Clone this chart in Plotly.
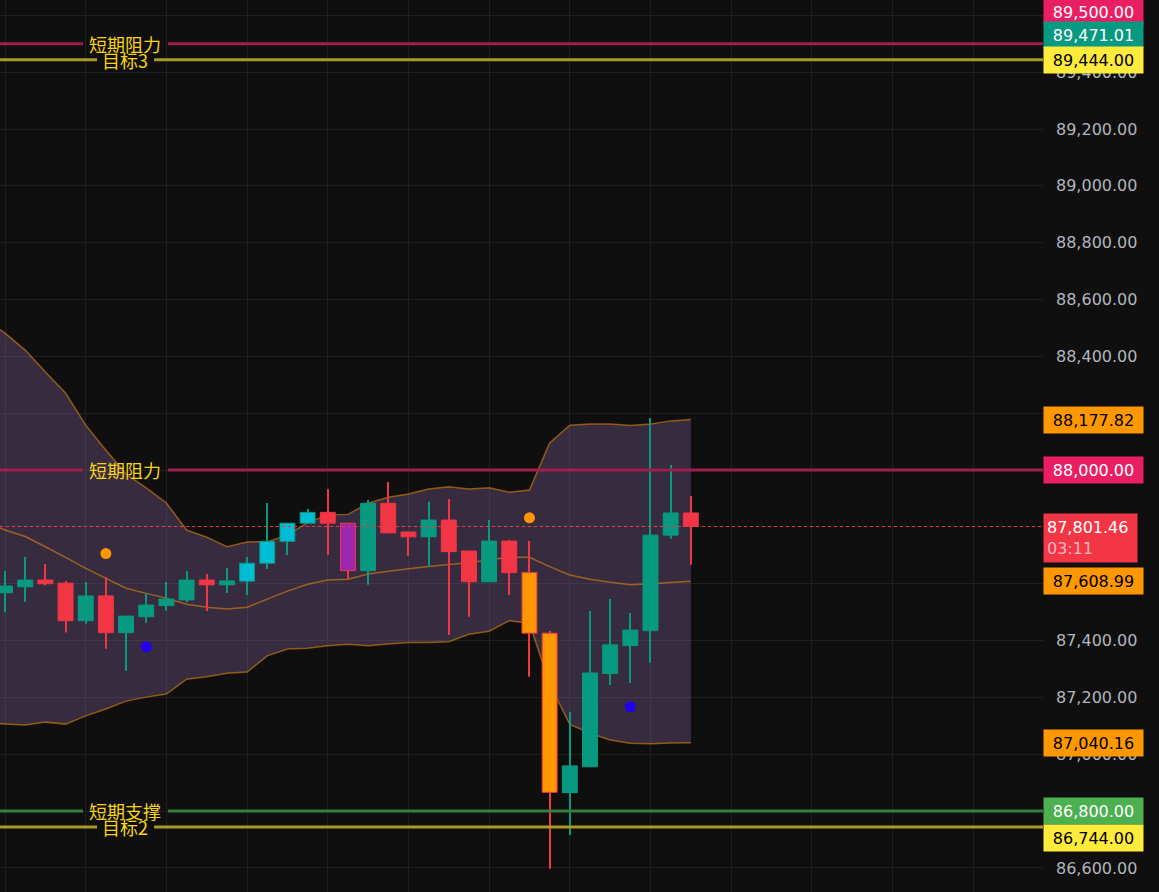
import plotly.graph_objects as go

# K 线数据（x 为序号）
opens = [87568, 87589, 87613, 87602, 87470, 87557, 87428, 87484, 87523, 87543,
         87613, 87596, 87609, 87672, 87749, 87813, 87851, 87813, 87646, 87883,
         87782, 87765, 87824, 87715, 87607, 87750, 87640, 87426, 86865, 86956,
         87284, 87382, 87435, 87771, 87849]
highs = [87646, 87694, 87669, 87610, 87606, 87624, 87486, 87566, 87606, 87645,
         87634, 87655, 87694, 87884, 87813, 87863, 87933, 87813, 87895, 87958,
         87782, 87888, 87898, 87715, 87824, 87754, 87750, 87434, 87149, 87504,
         87546, 87497, 88183, 88018, 87909]
lows = [87500, 87537, 87595, 87428, 87459, 87371, 87294, 87463, 87505, 87535,
        87504, 87567, 87560, 87652, 87701, 87813, 87701, 87617, 87596, 87779,
        87698, 87660, 87420, 87484, 87607, 87560, 87273, 86597, 86716, 86956,
        87244, 87251, 87322, 87758, 87667]
closes = [87592, 87613, 87600, 87470, 87557, 87428, 87486, 87525, 87546, 87613,
          87596, 87610, 87672, 87749, 87813, 87851, 87813, 87646, 87883, 87779,
          87765, 87824, 87713, 87607, 87750, 87639, 87426, 86866, 86959, 87286,
          87385, 87437, 87771, 87849, 87801.46]

# 特殊着色的 K 线
cyan_idx = [12, 13, 14, 15]
purple_idx = [17]
orange_idx = [26, 27]

# 布林带（从 -1 开始）
band_x = list(range(-1, 35))
bb_upper = [88531, 88482, 88422, 88345, 88271, 88158, 88070, 87986, 87937, 87884,
            87789, 87764, 87730, 87747, 87748, 87771, 87815, 87842, 87844, 87883,
            87904, 87916, 87933, 87941, 87933, 87938, 87922, 87930, 88095, 88158,
            88162, 88162, 88157, 88162, 88173, 88177.82]
bb_mid = [87817, 87789, 87766, 87730, 87693, 87654, 87619, 87584, 87566, 87549,
          87528, 87517, 87511, 87517, 87546, 87574, 87598, 87613, 87616, 87634,
          87644, 87653, 87661, 87668, 87674, 87684, 87693, 87693, 87660, 87631,
          87616, 87605, 87596, 87600, 87604, 87608.99]
bb_lower = [87110, 87106, 87103, 87113, 87106, 87135, 87159, 87187, 87201, 87212,
            87264, 87273, 87285, 87289, 87346, 87370, 87373, 87382, 87387, 87382,
            87388, 87393, 87393, 87396, 87422, 87433, 87470, 87461, 87247, 87105,
            87074, 87050, 87039, 87037, 87040, 87040.16]

# 信号点
buy_x = [7, 31]
buy_y = [87378, 87167]
sell_x = [5, 26]
sell_y = [87706, 87832]

# 水平线
level_names = ['短期阻力', '目标3', '短期阻力', '短期支撑', '目标2']
level_values = [89500, 89444, 88000, 86800, 86744]
level_colors = ['#a01e4b', '#a99a28', '#a01e4b', '#3a7d3a', '#a99a28']

last_price = 87801.46
countdown = '03:11'

# 右侧价格标签
tag_values = [89500.00, 89471.01, 89444.00, 88177.82, 88000.00,
              87608.99, 87040.16, 86800.00, 86744.00]
tag_bg = ['#e91e63', '#089981', '#ffeb3b', '#ff9800', '#e91e63',
          '#ff9800', '#ff9800', '#4caf50', '#ffeb3b']
tag_fg = ['#ffffff', '#ffffff', '#000000', '#000000', '#ffffff',
          '#000000', '#000000', '#ffffff', '#000000']
tag_shift = [32, 17, 0, 0, 0, 0, 0, 0, -11]

BG = '#0f0f0f'
UP = '#089981'
DOWN = '#f23645'
n = len(opens)
special = set(cyan_idx + purple_idx + orange_idx)
normal_idx = [i for i in range(n) if i not in special]


def bars(idx, lo, hi, width, fill, edge, lw):
    return go.Bar(x=idx, base=[lo[i] for i in idx],
                  y=[hi[i] - lo[i] for i in idx], width=width,
                  marker=dict(color=fill, line=dict(color=edge, width=lw)),
                  showlegend=False, hoverinfo='skip')


def path(xs, ys):
    return 'M ' + ' L '.join(f'{x},{y}' for x, y in zip(xs, ys))


fig = go.Figure()

# 布林带画在网格和 K 线之间
fill_path = path(band_x + band_x[::-1], bb_upper + bb_lower[::-1]) + ' Z'
fig.add_shape(type='path', path=fill_path, xref='x', yref='y', layer='between',
              fillcolor='rgba(150,110,180,0.3)', line=dict(width=0))
for band in (bb_upper, bb_mid, bb_lower):
    fig.add_shape(type='path', path=path(band_x, band), xref='x', yref='y',
                  layer='between', line=dict(color='rgba(255,152,0,0.5)', width=1.5))

# 影线
up_idx = [i for i in range(n) if closes[i] >= opens[i]]
dn_idx = [i for i in range(n) if closes[i] < opens[i]]
fig.add_trace(bars(up_idx, lows, highs, 0.05, UP, UP, 0))
fig.add_trace(bars(dn_idx, lows, highs, 0.05, DOWN, DOWN, 0))

# 实体
body_lo = [min(o, c) for o, c in zip(opens, closes)]
body_hi = [max(o, c) for o, c in zip(opens, closes)]
normal_col = [UP if closes[i] >= opens[i] else DOWN for i in normal_idx]
fig.add_trace(bars(normal_idx, body_lo, body_hi, 0.74, normal_col, normal_col, 1))
fig.add_trace(bars(cyan_idx, body_lo, body_hi, 0.74, '#00bcd4', UP, 1))
fig.add_trace(bars(purple_idx, body_lo, body_hi, 0.74, '#9c27b0', DOWN, 1))
fig.add_trace(bars(orange_idx, body_lo, body_hi, 0.74, '#ff9800', DOWN, 1))

fig.add_trace(go.Scatter(x=buy_x, y=buy_y, mode='markers',
                         marker=dict(color='#2200ee', size=11),
                         showlegend=False, hoverinfo='skip'))
fig.add_trace(go.Scatter(x=sell_x, y=sell_y, mode='markers',
                         marker=dict(color='#ff9800', size=11),
                         showlegend=False, hoverinfo='skip'))

# 水平线（文字处留空）
for name, v, c in zip(level_names, level_values, level_colors):
    gap = (0.0796, 0.161) if len(name) == 4 else (0.093, 0.1477)
    for a, b in ((0, gap[0]), (gap[1], 1)):
        fig.add_shape(type='line', xref='paper', x0=a, x1=b, y0=v, y1=v,
                      line=dict(color=c, width=3), layer='above')
    fig.add_annotation(x=0.12, xref='paper', y=v, yref='y', text=name,
                       showarrow=False, xanchor='center', yanchor='middle',
                       font=dict(family='Noto Sans CJK SC', size=18, color='#f7d417'))

fig.add_shape(type='line', xref='paper', x0=0, x1=1, y0=last_price, y1=last_price,
              line=dict(color=DOWN, width=1, dash='dot'), layer='above')

# 右侧价格标签
tag_font = 'DejaVu Sans'
for v, bg, fg, sh in zip(tag_values, tag_bg, tag_fg, tag_shift):
    fig.add_annotation(x=1, xref='paper', y=v, yref='y', yshift=sh,
                       text=f'{v:,.2f}', showarrow=False,
                       xanchor='left', yanchor='middle', align='center',
                       width=93, height=20, borderpad=3, bgcolor=bg,
                       font=dict(family=tag_font, size=16, color=fg))
fig.add_annotation(x=1, xref='paper', y=last_price, yref='y', yshift=13,
                   text=f'{last_price:,.2f}<br><span style="color:#f9b8c0">{countdown}</span>',
                   showarrow=False, xanchor='left', yanchor='top', align='left',
                   width=87, height=42, borderpad=3, bgcolor=DOWN,
                   font=dict(family=tag_font, size=16, color='#ffffff'))

fig.update_layout(
    width=1159, height=892,
    margin=dict(l=0, r=116, t=0, b=0),
    paper_bgcolor=BG, plot_bgcolor=BG,
    showlegend=False, barmode='overlay',
    xaxis=dict(range=[-0.25, 51.46], tick0=0, dtick=4, showticklabels=False,
               gridcolor='#1f1f1f', zeroline=False, showline=False, fixedrange=True),
    yaxis=dict(range=[86515.3, 89653.9], side='right', tick0=0, dtick=200,
               tickformat=',.2f', gridcolor='#1f1f1f', zeroline=False,
               showline=False, ticklabelstandoff=12,
               tickfont=dict(family=tag_font, size=16, color='#b2b5be')),
)

fig.write_html('out.html', config={'displayModeBar': False},
               post_script="document.body.style.margin='0';")
